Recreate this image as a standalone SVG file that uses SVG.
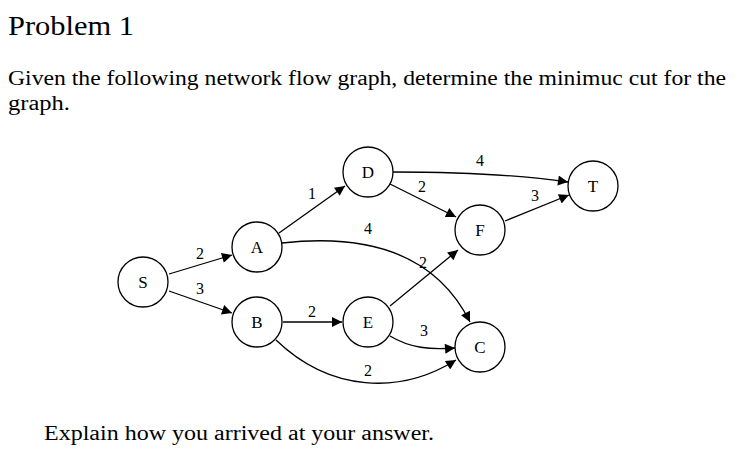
<svg xmlns="http://www.w3.org/2000/svg" width="756" height="462" viewBox="0 0 756 462">
<style>
text{font-family:"Liberation Serif","DejaVu Serif",serif;fill:#000}
.n circle{fill:#fff;stroke:#000;stroke-width:1.3}
.n text{font-size:17px;text-anchor:middle}
.e path{fill:none;stroke:#000;stroke-width:1.3;marker-end:url(#ah)}
.l{font-size:16px;text-anchor:middle}
</style>
<defs><marker id="ah" viewBox="0 0 10 10" refX="10" refY="5" markerWidth="13" markerHeight="10" markerUnits="userSpaceOnUse" orient="auto"><path d="M0,0L10,5L0,10z" fill="#000"/></marker></defs>
<rect width="756" height="462" fill="#fff"/>
<text x="8" y="35" font-size="27" textLength="126" lengthAdjust="spacingAndGlyphs">Problem 1</text>
<text x="8" y="85" font-size="20" textLength="718" lengthAdjust="spacingAndGlyphs">Given the following network flow graph, determine the minimuc cut for the</text>
<text x="8" y="110" font-size="20" textLength="62" lengthAdjust="spacingAndGlyphs">graph.</text>
<text x="44" y="440" font-size="20" textLength="390" lengthAdjust="spacingAndGlyphs">Explain how you arrived at your answer.</text>
<g id="edges" class="e">
<path d="M169,274L232,255"/>
<path d="M169,291L232,313"/>
<path d="M279,233L345,186"/>
<path d="M393,172C460,172 520,175 568,182"/>
<path d="M390,184L456,217"/>
<path d="M282,243C380,232 440,262 470,322"/>
<path d="M390,306L458,250"/>
<path d="M283,322L342,322"/>
<path d="M390,336C410,348 430,350 455,348"/>
<path d="M276,340C330,392 400,395 456,360"/>
<path d="M505,221L569,195"/>
</g>
<g id="labels">
<text class="l" x="200" y="259">2</text>
<text class="l" x="200" y="294">3</text>
<text class="l" x="312" y="199">1</text>
<text class="l" x="480" y="166">4</text>
<text class="l" x="422" y="192">2</text>
<text class="l" x="368" y="234">4</text>
<text class="l" x="423" y="268">2</text>
<text class="l" x="312" y="317">2</text>
<text class="l" x="424" y="336">3</text>
<text class="l" x="368" y="376">2</text>
<text class="l" x="535" y="201">3</text>
</g>
<g id="S" class="n"><circle cx="143" cy="282" r="25"/><text x="143" y="288">S</text></g>
<g id="A" class="n"><circle cx="257" cy="247" r="25"/><text x="257" y="253">A</text></g>
<g id="D" class="n"><circle cx="368" cy="172" r="25"/><text x="368" y="178">D</text></g>
<g id="T" class="n"><circle cx="593" cy="186" r="25"/><text x="593" y="192">T</text></g>
<g id="F" class="n"><circle cx="480" cy="230" r="25"/><text x="480" y="236">F</text></g>
<g id="B" class="n"><circle cx="257" cy="322" r="25"/><text x="257" y="328">B</text></g>
<g id="E" class="n"><circle cx="368" cy="322" r="25"/><text x="368" y="328">E</text></g>
<g id="C" class="n"><circle cx="480" cy="347" r="25"/><text x="480" y="353">C</text></g>
</svg>
